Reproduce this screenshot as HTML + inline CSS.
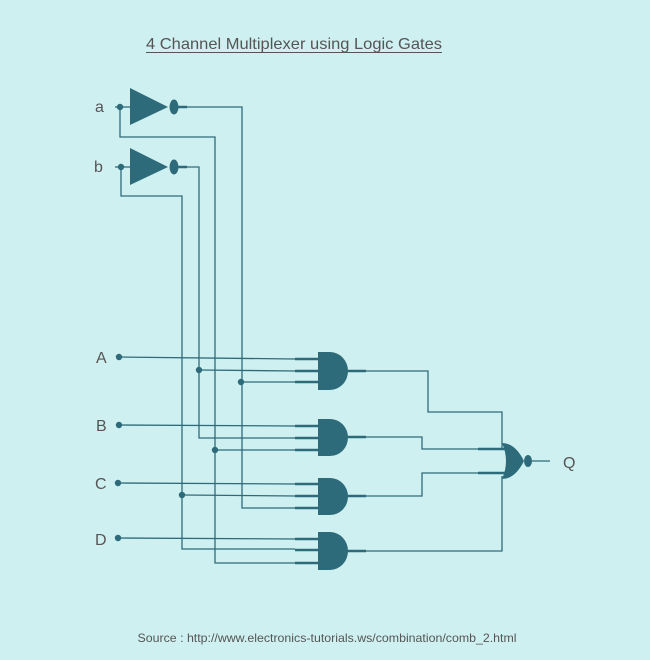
<!DOCTYPE html>
<html><head><meta charset="utf-8"><style>
html,body{margin:0;padding:0;background:#cff0f1;}
svg{display:block;}
text{font-family:"Liberation Sans",sans-serif;fill:#555;}
</style></head><body>
<svg width="650" height="660" viewBox="0 0 650 660" xmlns="http://www.w3.org/2000/svg">
<rect width="650" height="660" fill="#cff0f1"/>
<text x="294" y="49" font-size="16" text-anchor="middle" textLength="296" lengthAdjust="spacingAndGlyphs">4 Channel Multiplexer using Logic Gates</text>
<line x1="146" y1="52.5" x2="442" y2="52.5" stroke="#555" stroke-width="1"/>
<text x="327" y="642" font-size="12" text-anchor="middle" textLength="379" lengthAdjust="spacingAndGlyphs" fill="#666">Source : http://www.electronics-tutorials.ws/combination/comb_2.html</text>

<g font-size="16">
<text x="95" y="112">a</text>
<text x="94" y="172">b</text>
<text x="96" y="363">A</text>
<text x="96" y="431">B</text>
<text x="95" y="489">C</text>
<text x="95" y="545">D</text>
<text x="563" y="468">Q</text>
</g>

<g stroke="#2e6b7a" stroke-width="1.3" fill="none">
<!-- inverter wiring -->
<line x1="115" y1="107" x2="130" y2="107"/>
<line x1="115" y1="167" x2="130" y2="167"/>
<polyline points="178,107 242,107 242,508 295,508"/>
<polyline points="120,107 120,137 215,137 215,563 295,563"/>
<polyline points="178,167 199,167 199,438 295,438"/>
<polyline points="121,167 121,196 182,196 182,549 295,549"/>
<!-- inputs -->
<line x1="119" y1="357" x2="295" y2="359"/>
<line x1="119" y1="425" x2="295" y2="426"/>
<line x1="118" y1="483" x2="295" y2="484"/>
<line x1="118" y1="538" x2="295" y2="539"/>
<line x1="199" y1="370" x2="295" y2="371"/>
<line x1="242" y1="382" x2="295" y2="382"/>
<line x1="215" y1="450" x2="295" y2="450"/>
<line x1="182" y1="495" x2="295" y2="496"/>
<!-- outputs -->
<polyline points="348,371 428,371 428,412 502,412 502,448"/>
<polyline points="348,437 422,437 422,449 505,449"/>
<polyline points="348,496 422,496 422,473 505,473"/>
<polyline points="348,551 502,551 502,476"/>
<line x1="528" y1="461" x2="550" y2="461"/>
</g>
<g stroke="#2e6b7a" stroke-width="2.5">
<line x1="295" y1="359" x2="318" y2="359"/><line x1="295" y1="371" x2="318" y2="371"/><line x1="295" y1="382" x2="318" y2="382"/><line x1="346" y1="371" x2="366" y2="371"/>
<line x1="295" y1="426" x2="318" y2="426"/><line x1="295" y1="438" x2="318" y2="438"/><line x1="295" y1="450" x2="318" y2="450"/><line x1="346" y1="437" x2="366" y2="437"/>
<line x1="295" y1="484" x2="318" y2="484"/><line x1="295" y1="496" x2="318" y2="496"/><line x1="295" y1="508" x2="318" y2="508"/><line x1="346" y1="496" x2="366" y2="496"/>
<line x1="295" y1="539" x2="318" y2="539"/><line x1="295" y1="550" x2="318" y2="550"/><line x1="295" y1="563" x2="318" y2="563"/><line x1="346" y1="551" x2="366" y2="551"/>
<line x1="478" y1="449" x2="505" y2="449"/><line x1="478" y1="473" x2="505" y2="473"/>
<line x1="178" y1="107" x2="187" y2="107"/><line x1="178" y1="167" x2="187" y2="167"/>
</g>
<g fill="#2e6b7a">
<polygon points="130,88 130,125 168,107"/>
<ellipse cx="174" cy="107" rx="4.5" ry="7.5"/>
<polygon points="130,148 130,185 168,167"/>
<ellipse cx="174" cy="167" rx="4.5" ry="7.5"/>
<path d="M318,352 H330 A18,19 0 0 1 330,390 H318 Z"/>
<path d="M318,419 H330 A18,18.5 0 0 1 330,456 H318 Z"/>
<path d="M318,478 H330 A18,18.5 0 0 1 330,515 H318 Z"/>
<path d="M318,532 H330 A18,19 0 0 1 330,570 H318 Z"/>
<path d="M502,443 Q515,443 524,461 Q515,479 502,479 Q510,461 502,443 Z"/>
<ellipse cx="528" cy="461" rx="4" ry="6"/>
<circle cx="120" cy="107" r="3.2"/><circle cx="121" cy="167" r="3.2"/>
<circle cx="119" cy="357" r="3.2"/><circle cx="119" cy="425" r="3.2"/><circle cx="118" cy="483" r="3.2"/><circle cx="118" cy="538" r="3.2"/>
<circle cx="199" cy="370" r="3.2"/><circle cx="241" cy="382" r="3.2"/><circle cx="215" cy="450" r="3.2"/><circle cx="182" cy="495" r="3.2"/>
</g>
</svg>
</body></html>
